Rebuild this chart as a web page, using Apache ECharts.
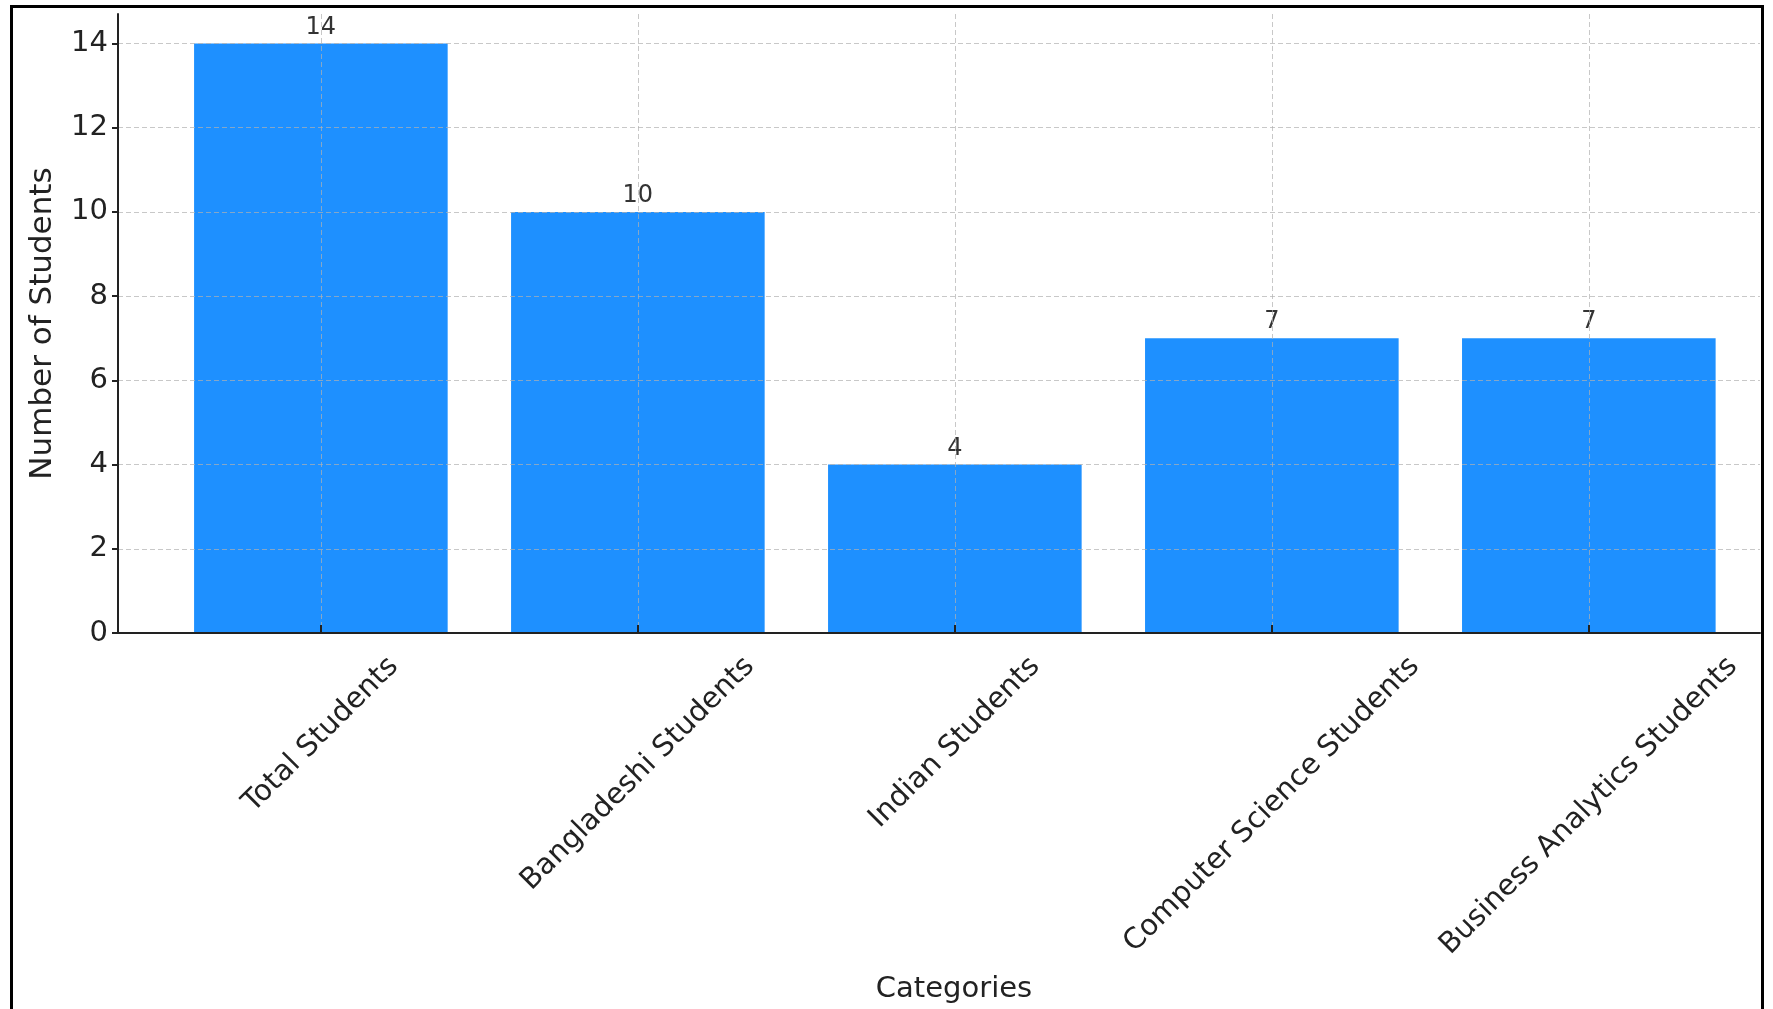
<!DOCTYPE html>
<html lang="en">
<head>
    <meta charset="UTF-8">
    <title>Number of Students by Category</title>
    <script src="https://cdn.jsdelivr.net/npm/echarts@6/dist/echarts.min.js"></script>
    <style>
        html, body { margin: 0; padding: 0; background: #fff; }
        #chart { width: 1773px; height: 1009px; }
        /* black frame around the picture, cut off at the bottom */
        .frame {
            position: absolute; left: 10px; top: 5px;
            width: 1748px; height: 1100px;
            border: 3px solid #000; pointer-events: none;
        }
    </style>
</head>
<body>
    <div id="chart"></div>
    <div class="frame"></div>

    <script>
        // data
        const categories = [
            'Total Students',
            'Bangladeshi Students',
            'Indian Students',
            'Computer Science Students',
            'Business Analytics Students'
        ];
        const counts = [14, 10, 4, 7, 7];
        const yTicks = [0, 2, 4, 6, 8, 10, 12, 14];
        const xTicks = [0, 1, 2, 3, 4];

        // axis limits (matplotlib-like margins, right side cropped)
        const xMin = -0.64, xMax = 4.54;
        const yMax = 14.7;

        const FONT = 'DejaVu Sans';
        const labelSize = 29;
        const gridColor = 'rgba(176,176,176,0.7)';
        const ink = '#222';

        // measure label widths so rotated labels are centred under the tick like matplotlib
        const ctx = document.createElement('canvas').getContext('2d');
        ctx.font = labelSize + 'px "' + FONT + '"';
        const rich = {};
        categories.forEach((name, i) => {
            const w = ctx.measureText(name).width;
            const p = (w + labelSize * 1.16) / 2;
            rich['c' + i] = {
                fontFamily: FONT, fontSize: labelSize, color: ink,
                padding: [p, p, 0, 0]
            };
        });

        const chart = echarts.init(document.getElementById('chart'));

        chart.setOption({
            animation: false,
            backgroundColor: 'transparent',
            textStyle: { fontFamily: FONT },
            grid: { left: 118, right: 13, top: 14, bottom: 376, containLabel: false },
            xAxis: {
                type: 'value',
                min: xMin,
                max: xMax,
                z: 3,
                axisLine: { onZero: false, lineStyle: { color: ink, width: 2 } },
                axisTick: { show: true, inside: true, length: 8, customValues: xTicks,
                    lineStyle: { color: ink, width: 2 } },
                axisLabel: {
                    customValues: xTicks,
                    rotate: 45,
                    align: 'center',
                    verticalAlign: 'middle',
                    margin: 17,
                    formatter: v => '{c' + v + '|' + categories[v] + '}',
                    rich: rich
                },
                splitLine: { show: true, lineStyle: { color: gridColor, type: [5, 3], width: 1 } },
                name: 'Categories',
                nameLocation: 'middle',
                nameGap: 342,
                nameTextStyle: { fontFamily: FONT, fontSize: labelSize, color: ink,
                    verticalAlign: 'top', padding: [0, 0, 0, 30] }
            },
            yAxis: {
                type: 'value',
                min: 0,
                max: yMax,
                z: 3,
                axisLine: { show: true, onZero: false, lineStyle: { color: ink, width: 2 } },
                axisTick: { show: true, length: 6, customValues: yTicks,
                    lineStyle: { color: ink, width: 2 } },
                axisLabel: { customValues: yTicks, fontFamily: FONT, fontSize: labelSize,
                    color: ink, margin: 10 },
                splitLine: { show: true, lineStyle: { color: gridColor, type: [5, 3], width: 1 } },
                name: 'Number of Students',
                nameLocation: 'middle',
                nameGap: 60,
                nameTextStyle: { fontFamily: FONT, fontSize: 31, color: ink }
            },
            series: [{
                type: 'bar',
                data: counts.map((v, i) => [i, v]),
                barWidth: '80%',
                z: 2,
                itemStyle: { color: '#1E90FF' },
                label: {
                    show: true,
                    position: 'top',
                    distance: 4,
                    fontFamily: FONT,
                    fontSize: 24,
                    color: '#333',
                    formatter: p => p.value[1]
                }
            }]
        });

        window.addEventListener('resize', () => chart.resize());
    </script>
</body>
</html>
